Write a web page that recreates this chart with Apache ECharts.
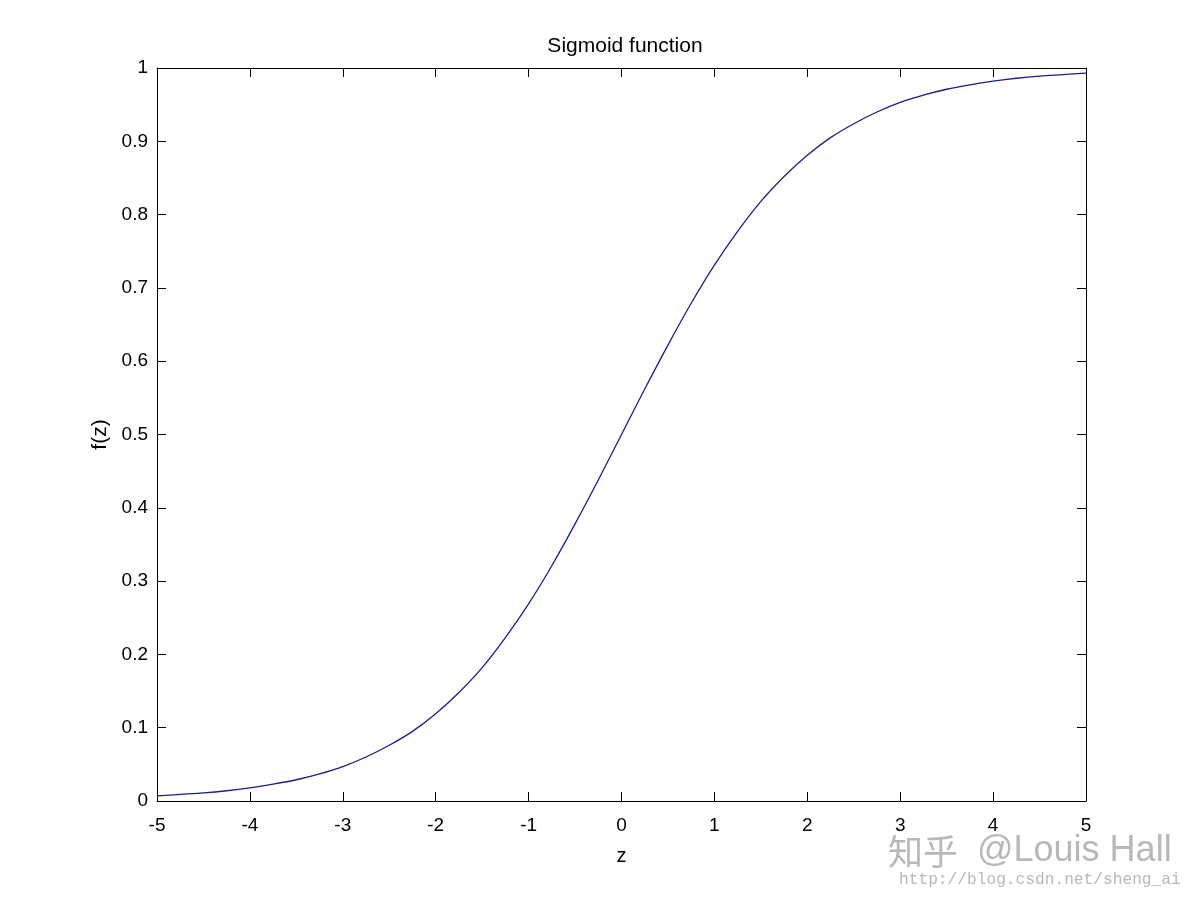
<!DOCTYPE html>
<html><head><meta charset="utf-8">
<script src="https://cdn.jsdelivr.net/npm/echarts@6/dist/echarts.min.js"></script>
<style>html,body{margin:0;padding:0;background:#fff}#c{width:1200px;height:900px}</style>
</head><body><div id="c"></div>
<script>
const zValues = [-5,-4.75,-4.5,-4.25,-4,-3.75,-3.5,-3.25,-3,-2.75,-2.5,-2.25,-2,-1.75,-1.5,-1.25,-1,-0.75,-0.5,-0.25,0,0.25,0.5,0.75,1,1.25,1.5,1.75,2,2.25,2.5,2.75,3,3.25,3.5,3.75,4,4.25,4.5,4.75,5];
const fValues = [0.007,0.009,0.011,0.014,0.018,0.023,0.029,0.037,0.047,0.060,0.076,0.095,0.119,0.148,0.182,0.223,0.269,0.321,0.378,0.438,0.5,0.562,0.622,0.679,0.731,0.777,0.818,0.852,0.881,0.905,0.924,0.940,0.953,0.963,0.971,0.977,0.982,0.986,0.989,0.991,0.993];
const xTicks = [-5,-4,-3,-2,-1,0,1,2,3,4,5];
const yTicks = [0,0.1,0.2,0.3,0.4,0.5,0.6,0.7,0.8,0.9,1];
const titleText = 'Sigmoid function';
const xName = 'z';
const yName = 'f(z)';
const watermarkCJK = '知乎';
const watermarkName = '@Louis Hall';
const watermarkUrl = 'http://blog.csdn.net/sheng_ai';

const font = 'Liberation Sans, Arial, Helvetica, sans-serif';
const chart = echarts.init(document.getElementById('c'), null, {renderer:'canvas'});
const axLine = {show:true, onZero:false, lineStyle:{color:'#000', width:1}};
const tick = {show:true, inside:true, length:9, lineStyle:{color:'#000', width:1}};
chart.setOption({
  animation:false,
  backgroundColor:'#fff',
  title:{text:titleText, left:620, top:31, textAlign:'center',
    textStyle:{fontFamily:font, fontSize:21, fontWeight:'normal', color:'#000'}},
  grid:{left:157, right:114, top:68, bottom:99, show:false},
  xAxis:[
    {type:'value', min:xTicks[0], max:xTicks[xTicks.length-1], interval:1, position:'bottom',
     name:xName, nameLocation:'middle', nameGap:45, nameTextStyle:{fontFamily:font, fontSize:20, color:'#000'},
     axisLine:axLine, axisTick:tick, splitLine:{show:false},
     axisLabel:{fontFamily:font, fontSize:19, color:'#000', margin:15}},
    {type:'value', min:xTicks[0], max:xTicks[xTicks.length-1], interval:1, position:'top',
     axisLine:axLine, axisTick:tick, splitLine:{show:false}, axisLabel:{show:false}}
  ],
  yAxis:[
    {type:'value', min:yTicks[0], max:yTicks[yTicks.length-1], interval:0.1, position:'left',
     name:yName, nameLocation:'middle', nameGap:34, nameRotate:90,
     nameTextStyle:{fontFamily:font, fontSize:21, color:'#000'},
     axisLine:axLine, axisTick:tick, splitLine:{show:false},
     axisLabel:{fontFamily:font, fontSize:19, color:'#000', margin:9}},
    {type:'value', min:yTicks[0], max:yTicks[yTicks.length-1], interval:0.1, position:'right',
     axisLine:axLine, axisTick:tick, splitLine:{show:false}, axisLabel:{show:false}}
  ],
  series:[{type:'line', data:zValues.map((z,i)=>[z,fValues[i]]), showSymbol:false, smooth:0.3,
    lineStyle:{color:'#1c1c8c', width:1.3}, xAxisIndex:0, yAxisIndex:0}],
  graphic:[
    {type:'text', x:888, y:852, style:{text:watermarkCJK, fill:'#b8b8b8', verticalAlign:'middle', font:'35px "Noto Sans CJK SC", sans-serif'}},
    {type:'text', x:977, y:851, style:{text:watermarkName, fill:'#b8b8b8', verticalAlign:'middle', font:'36px "Liberation Sans", sans-serif'}},
    {type:'text', x:899, y:880, style:{text:watermarkUrl, fill:'#b8b8b8', verticalAlign:'middle', font:'16.2px "Liberation Mono", "DejaVu Sans Mono", monospace'}}
  ]
});
</script></body></html>
